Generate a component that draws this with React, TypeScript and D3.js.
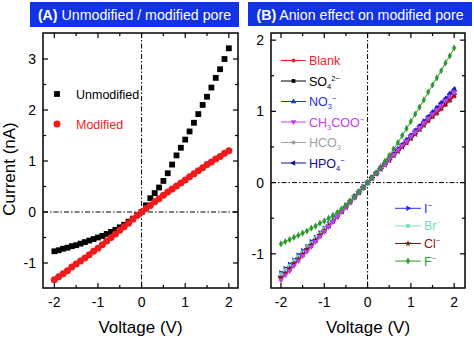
import React from 'react';
import * as d3 from 'd3';

const FONT = "Arial, 'Liberation Sans', Helvetica, sans-serif";

// Voltage grid (V)
const voltage = [-2.0,-1.9,-1.8,-1.7,-1.6,-1.5,-1.4,-1.3,-1.2,-1.1,-1.0,-0.9,-0.8,-0.7,-0.6,-0.5,-0.4,-0.3,-0.2,-0.1,0.0,0.1,0.2,0.3,0.4,0.5,0.6,0.7,0.8,0.9,1.0,1.1,1.2,1.3,1.4,1.5,1.6,1.7,1.8,1.9,2.0];

// Panel A
const unmodified = [-0.77,-0.75,-0.72,-0.70,-0.67,-0.65,-0.62,-0.59,-0.56,-0.53,-0.50,-0.47,-0.43,-0.39,-0.35,-0.30,-0.25,-0.19,-0.13,-0.06,0.00,0.13,0.27,0.37,0.48,0.61,0.76,0.93,1.11,1.26,1.42,1.58,1.75,1.92,2.10,2.26,2.44,2.63,2.80,3.00,3.21];
const modified = [-1.33,-1.27,-1.21,-1.15,-1.08,-1.02,-0.96,-0.90,-0.84,-0.77,-0.71,-0.64,-0.57,-0.50,-0.43,-0.36,-0.29,-0.22,-0.14,-0.07,0.00,0.07,0.13,0.20,0.26,0.33,0.39,0.45,0.51,0.57,0.63,0.69,0.75,0.81,0.87,0.93,0.98,1.04,1.09,1.15,1.20];

// Panel B
const blank = [-1.32,-1.26,-1.19,-1.13,-1.06,-1.00,-0.93,-0.87,-0.80,-0.74,-0.67,-0.60,-0.54,-0.47,-0.40,-0.34,-0.27,-0.20,-0.13,-0.07,0.00,0.06,0.13,0.19,0.25,0.32,0.38,0.44,0.50,0.56,0.62,0.68,0.74,0.80,0.86,0.92,0.97,1.03,1.09,1.15,1.21];
const so4 = [-1.33,-1.27,-1.20,-1.14,-1.07,-1.01,-0.94,-0.87,-0.81,-0.74,-0.68,-0.61,-0.54,-0.47,-0.41,-0.34,-0.27,-0.20,-0.14,-0.07,0.00,0.07,0.13,0.20,0.26,0.33,0.39,0.46,0.52,0.58,0.65,0.71,0.77,0.84,0.90,0.96,1.02,1.08,1.15,1.21,1.27];
const no3 = [-1.30,-1.24,-1.18,-1.11,-1.05,-0.98,-0.92,-0.85,-0.79,-0.72,-0.66,-0.59,-0.53,-0.46,-0.40,-0.33,-0.26,-0.20,-0.13,-0.07,0.00,0.07,0.13,0.20,0.27,0.34,0.40,0.47,0.53,0.60,0.66,0.73,0.79,0.86,0.92,0.99,1.05,1.12,1.18,1.25,1.31];
const ch3coo = [-1.37,-1.30,-1.24,-1.17,-1.10,-1.03,-0.97,-0.90,-0.83,-0.76,-0.69,-0.62,-0.55,-0.48,-0.41,-0.35,-0.28,-0.21,-0.14,-0.07,0.00,0.07,0.13,0.20,0.26,0.33,0.39,0.46,0.52,0.58,0.65,0.71,0.77,0.84,0.90,0.96,1.02,1.08,1.15,1.21,1.27];
const hco3 = [-1.31,-1.25,-1.18,-1.12,-1.05,-0.99,-0.92,-0.86,-0.79,-0.73,-0.66,-0.60,-0.53,-0.47,-0.40,-0.33,-0.27,-0.20,-0.13,-0.07,0.00,0.06,0.13,0.19,0.26,0.32,0.38,0.45,0.51,0.57,0.64,0.70,0.76,0.82,0.88,0.94,1.01,1.07,1.13,1.19,1.25];
const hpo4 = [-1.32,-1.26,-1.19,-1.13,-1.06,-1.00,-0.93,-0.87,-0.80,-0.73,-0.67,-0.60,-0.54,-0.47,-0.40,-0.34,-0.27,-0.20,-0.13,-0.07,0.00,0.07,0.13,0.20,0.27,0.33,0.40,0.46,0.53,0.59,0.66,0.72,0.79,0.85,0.92,0.98,1.04,1.11,1.17,1.24,1.30];
const iodide = [-1.27,-1.21,-1.15,-1.09,-1.02,-0.96,-0.90,-0.83,-0.77,-0.71,-0.64,-0.58,-0.52,-0.45,-0.39,-0.32,-0.26,-0.19,-0.13,-0.06,0.00,0.07,0.13,0.20,0.26,0.33,0.39,0.46,0.52,0.59,0.65,0.72,0.78,0.85,0.91,0.97,1.04,1.10,1.16,1.23,1.29];
const bromide = [-1.29,-1.23,-1.17,-1.10,-1.04,-0.98,-0.91,-0.85,-0.78,-0.72,-0.65,-0.59,-0.52,-0.46,-0.39,-0.33,-0.26,-0.20,-0.13,-0.07,0.00,0.06,0.13,0.19,0.25,0.32,0.38,0.44,0.51,0.57,0.63,0.69,0.75,0.81,0.87,0.93,1.00,1.06,1.12,1.18,1.24];
const chloride = [-1.34,-1.28,-1.21,-1.14,-1.08,-1.01,-0.94,-0.88,-0.81,-0.74,-0.68,-0.61,-0.54,-0.48,-0.41,-0.34,-0.27,-0.20,-0.14,-0.07,0.00,0.06,0.13,0.19,0.25,0.31,0.38,0.44,0.50,0.56,0.62,0.68,0.75,0.81,0.87,0.93,0.99,1.05,1.11,1.17,1.23];
const fluoride = [-0.86,-0.83,-0.80,-0.77,-0.74,-0.71,-0.68,-0.64,-0.61,-0.57,-0.54,-0.50,-0.46,-0.42,-0.37,-0.32,-0.26,-0.20,-0.13,-0.07,0.00,0.07,0.14,0.22,0.30,0.38,0.47,0.56,0.66,0.76,0.86,0.96,1.06,1.16,1.27,1.37,1.47,1.57,1.68,1.78,1.89];

// Ticks
const xTicks = [-2, -1, 0, 1, 2];
const xMinor = [-1.5, -0.5, 0.5, 1.5];
const yTicksA = [-1, 0, 1, 2, 3];
const yMinorA = [-0.5, 0.5, 1.5, 2.5];
const yTicksB = [-1, 0, 1, 2];
const yMinorB = [-0.5, 0.5, 1.5];

type Label = { t: string; sub?: string; sup?: string };

const seriesB: { data: number[]; color: string; shape: string; label: Label }[] = [
  { data: blank, color: '#f0202a', shape: 'circle', label: { t: 'Blank' } },
  { data: so4, color: '#000000', shape: 'square', label: { t: 'SO', sub: '4', sup: '2−' } },
  { data: no3, color: '#1a32f0', shape: 'triUp', label: { t: 'NO', sub: '3', sup: '−' } },
  { data: hco3, color: '#a0a0a0', shape: 'circle', label: { t: 'HCO', sub: '3' } },
  { data: hpo4, color: '#101090', shape: 'triLeft', label: { t: 'HPO', sub: '4', sup: '−' } },
  { data: iodide, color: '#2a2ae8', shape: 'triRight', label: { t: 'I', sup: '−' } },
  { data: bromide, color: '#70e0c0', shape: 'circle', label: { t: 'Br', sup: '−' } },
  { data: chloride, color: '#8a1010', shape: 'star', label: { t: 'Cl', sup: '−' } },
  { data: ch3coo, color: '#c83cf0', shape: 'triDown', label: { t: 'CH', sub: '3', sup: '' } },
  { data: fluoride, color: '#2e9a2e', shape: 'diamond', label: { t: 'F', sup: '−' } },
];

function symbolPath(shape: string, size: number): { d: string; rot: number } {
  let type: any = d3.symbolCircle;
  let rot = 0;
  if (shape === 'square') type = d3.symbolSquare;
  if (shape === 'diamond') type = d3.symbolDiamond;
  if (shape === 'star') type = d3.symbolStar;
  if (shape === 'triUp') type = d3.symbolTriangle;
  if (shape === 'triDown') { type = d3.symbolTriangle; rot = 180; }
  if (shape === 'triLeft') { type = d3.symbolTriangle; rot = -90; }
  if (shape === 'triRight') { type = d3.symbolTriangle; rot = 90; }
  return { d: d3.symbol().type(type).size(size)() as string, rot };
}

function Marker({ x, y, shape, color, size }: { x: number; y: number; shape: string; color: string; size: number }) {
  const { d, rot } = symbolPath(shape, size);
  return <path d={d} transform={`translate(${x},${y}) rotate(${rot})`} fill={color} stroke="none" />;
}

function Frame({ x, y, yTicks, yMinor }: { x: any; y: any; yTicks: number[]; yMinor: number[] }) {
  const [l, r] = x.range();
  const [b, t] = y.range();
  const maj = 5, min = 3;
  const lines: JSX.Element[] = [];
  xTicks.forEach((v, i) => {
    const px = x(v);
    lines.push(<line key={'xb' + i} x1={px} x2={px} y1={b} y2={b - maj} />);
    lines.push(<line key={'xt' + i} x1={px} x2={px} y1={t} y2={t + maj} />);
  });
  xMinor.forEach((v, i) => {
    const px = x(v);
    lines.push(<line key={'xbm' + i} x1={px} x2={px} y1={b} y2={b - min} />);
    lines.push(<line key={'xtm' + i} x1={px} x2={px} y1={t} y2={t + min} />);
  });
  yTicks.forEach((v, i) => {
    const py = y(v);
    lines.push(<line key={'yl' + i} x1={l} x2={l + maj} y1={py} y2={py} />);
    lines.push(<line key={'yr' + i} x1={r} x2={r - maj} y1={py} y2={py} />);
  });
  yMinor.forEach((v, i) => {
    const py = y(v);
    lines.push(<line key={'ylm' + i} x1={l} x2={l + min} y1={py} y2={py} />);
    lines.push(<line key={'yrm' + i} x1={r} x2={r - min} y1={py} y2={py} />);
  });
  return (
    <g>
      <line x1={x(0)} x2={x(0)} y1={t} y2={b} stroke="#000" strokeWidth={1} strokeDasharray="5,2,1.5,2" />
      <line x1={l} x2={r} y1={y(0)} y2={y(0)} stroke="#000" strokeWidth={1} strokeDasharray="5,2,1.5,2" />
      <g stroke="#000" strokeWidth={1.2}>{lines}</g>
      <rect x={l} y={t} width={r - l} height={b - t} fill="none" stroke="#000" strokeWidth={1.5} />
      <g fontFamily={FONT} fontSize={14} fill="#000">
        {xTicks.map((v) => (
          <text key={'xl' + v} x={x(v)} y={307} textAnchor="middle">{v < 0 ? '-' + Math.abs(v) : String(v)}</text>
        ))}
        {yTicks.map((v) => (
          <text key={'yl' + v} x={l - 7} y={y(v) + 5} textAnchor="end">{v < 0 ? '-' + Math.abs(v) : String(v)}</text>
        ))}
      </g>
      <text x={(l + r) / 2} y={333} textAnchor="middle" fontFamily={FONT} fontSize={17}>Voltage (V)</text>
    </g>
  );
}

function LegendLabel({ x, y, label, color }: { x: number; y: number; label: Label; color: string }) {
  return (
    <text x={x} y={y} fontFamily={FONT} fontSize={12.5} fill={color}>
      <tspan>{label.t}</tspan>
      {label.sub ? <tspan dy={3} fontSize={7.5}>{label.sub}</tspan> : null}
      {label.sub && label.t === 'CH' ? <tspan dy={-3} fontSize={12.5}>COO</tspan> : null}
      {label.t === 'CH' ? <tspan dy={-5} fontSize={7.5}>−</tspan> : null}
      {label.sup ? <tspan dy={label.sub ? -8 : -5} fontSize={7.5}>{label.sup}</tspan> : null}
    </text>
  );
}

export default function App() {
  const xA = d3.scaleLinear().domain([-2.26, 2.21]).range([43, 238]);
  const yA = d3.scaleLinear().domain([-1.49, 3.51]).range([288, 33]);
  const xB = d3.scaleLinear().domain([-2.23, 2.25]).range([271, 465]);
  const yB = d3.scaleLinear().domain([-1.48, 2.1]).range([288, 33]);

  const lineB = (data: number[]) =>
    d3.line<number>().x((_, i) => xB(voltage[i])).y((d) => yB(d))(data) as string;

  const legendTop = [0, 1, 2, 8, 3, 4];
  const legendBottom = [5, 6, 7, 9];

  return (
    <svg width={474} height={338} style={{ display: 'block', position: 'absolute', left: 0, top: 0 }}>
      <rect x={0} y={0} width={474} height={338} fill="#fff" />
      {/* Title bars */}
      <rect x={30} y={2} width={209} height={25} fill="#1232e6" />
      <text x={134.5} y={20} textAnchor="middle" fontFamily={FONT} fontSize={14.2} fill="#fff">
        <tspan fontWeight="bold">(A)</tspan> Unmodified / modified pore
      </text>
      <rect x={248} y={2} width={224} height={24} fill="#1232e6" />
      <text x={360} y={19.5} textAnchor="middle" fontFamily={FONT} fontSize={14.2} fill="#fff">
        <tspan fontWeight="bold">(B)</tspan> Anion effect on modified pore
      </text>

      {/* Panel A */}
      <Frame x={xA} y={yA} yTicks={yTicksA} yMinor={yMinorA} />
      <text transform={`translate(15,169) rotate(-90)`} textAnchor="middle" fontFamily={FONT} fontSize={17}>Current (nA)</text>
      <g>
        {unmodified.map((v, i) => (
          <rect key={'u' + i} x={xA(voltage[i]) - 2.9} y={yA(v) - 2.9} width={5.8} height={5.8} fill="#000" />
        ))}
        {modified.map((v, i) => (
          <circle key={'m' + i} cx={xA(voltage[i])} cy={yA(v)} r={3.5} fill="#f01a1a" />
        ))}
      </g>
      <rect x={54.1} y={91.1} width={5.8} height={5.8} fill="#000" />
      <text x={76} y={98.5} fontFamily={FONT} fontSize={12.5} fill="#000">Unmodified</text>
      <circle cx={57} cy={124} r={3.5} fill="#f01a1a" />
      <text x={76} y={128.5} fontFamily={FONT} fontSize={12.5} fill="#f01a1a">Modified</text>

      {/* Panel B */}
      <Frame x={xB} y={yB} yTicks={yTicksB} yMinor={yMinorB} />
      <g>
        {seriesB.map((s, k) => (
          <g key={'s' + k}>
            <path d={lineB(s.data)} fill="none" stroke={s.color} strokeWidth={1} />
            {s.data.map((v, i) => (
              <Marker key={i} x={xB(voltage[i])} y={yB(v)} shape={s.shape} color={s.color} size={s.shape === 'star' ? 16 : 15} />
            ))}
          </g>
        ))}
      </g>
      {legendTop.map((idx, j) => {
        const s = seriesB[idx];
        const yy = 60.5 + j * 20.5;
        return (
          <g key={'lt' + j}>
            <line x1={281} x2={306} y1={yy} y2={yy} stroke={s.color} strokeWidth={1} />
            <Marker x={293.5} y={yy} shape={s.shape} color={s.color} size={14} />
            <LegendLabel x={309} y={yy + 4.5} label={s.label} color={s.color} />
          </g>
        );
      })}
      {legendBottom.map((idx, j) => {
        const s = seriesB[idx];
        const yy = 208.3 + j * 17.6;
        return (
          <g key={'lb' + j}>
            <line x1={395} x2={421} y1={yy} y2={yy} stroke={s.color} strokeWidth={1} />
            <Marker x={408} y={yy} shape={s.shape} color={s.color} size={14} />
            <LegendLabel x={424} y={yy + 4.5} label={s.label} color={s.color} />
          </g>
        );
      })}
    </svg>
  );
}
